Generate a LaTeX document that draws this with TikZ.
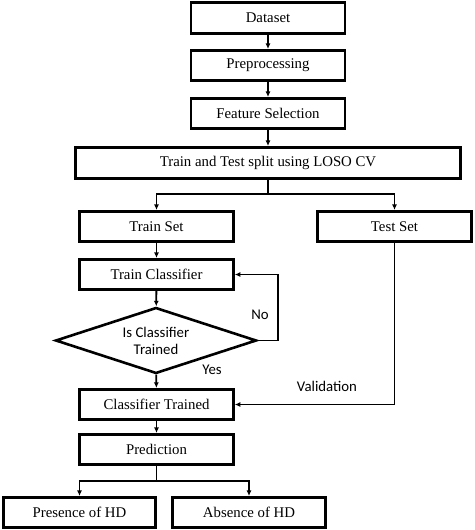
\documentclass[tikz,border=0pt]{standalone}
\usepackage{fontspec}
\setmainfont{Liberation Serif}
\newfontfamily\calfont{Carlito}
\usepackage{tikz}
\usetikzlibrary{arrows.meta}
\usetikzlibrary{shapes.geometric}
\tikzset{>={Latex[length=5.5pt,width=5pt]}}
\tikzset{stagebox/.style={draw, line width=2.6pt, minimum width=154pt, minimum height=30.5pt, inner sep=0pt, font=\fontsize{14.8}{17}\selectfont}}

\begin{document}
\begin{tikzpicture}[x=1pt, y=-1pt, every edge/.style={draw,line width=1.8pt}]
  \useasboundingbox (0,0) rectangle (474,530);

  \node[stagebox] at (268, 18)    (data)  {Dataset};
  \node[stagebox] at (268, 65.5)  (prep)  {Preprocessing};
  \node[stagebox] at (268, 113.5) (feat)  {Feature Selection};
  \node[stagebox, minimum width=385.5pt, minimum height=31.5pt] at (268, 163) (split) {Train and Test split using LOSO CV};
  \node[stagebox] at (156.5, 226.5) (trainset) {Train Set};
  \node[stagebox] at (394.5, 226.5) (testset)  {Test Set};
  \node[stagebox] at (156.5, 274.5) (traincls) {Train Classifier};
  \node[draw, diamond, line width=2.6pt, aspect=2.96, minimum width=201pt, minimum height=66pt, inner sep=0pt,
        align=center, font=\calfont\fontsize{14.8}{17}\selectfont] at (156, 340.5) (decide) {Is Classifier\\Trained};
  \node[stagebox] at (156.5, 404.5) (trained)  {Classifier Trained};
  \node[stagebox] at (156.5, 449.5) (pred)     {Prediction};
  \node[stagebox, minimum width=152pt] at (79.5, 512.5) (presence) {Presence of HD};
  \node[stagebox, minimum width=153pt] at (249, 512.5)  (absence)  {Absence of HD};

  \coordinate (fork1) at (268, 194);
  \coordinate (fork2) at (156.5, 481);

  \draw (data) edge[->] (prep);
  \draw (prep) edge[->] (feat);
  \draw (feat) edge[->] (split);
  \draw[line width=1.8pt] (split) -- (fork1);
  \draw[->, line width=1.8pt] (fork1) -| (trainset);
  \draw[->, line width=1.8pt] (fork1) -| (testset);
  \draw (trainset) edge[->] (traincls);
  \draw (traincls) edge[->] (decide);
  \draw[->, line width=1.8pt] (decide.east) -- ++(20,0) |- (traincls.east);
  \draw (decide) edge[->] (trained);
  \draw[->, line width=1.8pt] (testset.south) |- (trained.east);
  \draw (trained) edge[->] (pred);
  \draw[line width=1.8pt] (pred) -- (fork2);
  \draw[->, line width=1.8pt] (fork2) -| (presence);
  \draw[->, line width=1.8pt] (fork2) -| (absence);

  \node[font=\calfont\fontsize{14.8}{17}\selectfont] at (260, 315)   (nolab)  {No};
  \node[font=\calfont\fontsize{14.8}{17}\selectfont] at (212, 370)   (yeslab) {Yes};
  \node[font=\calfont\fontsize{14.8}{17}\selectfont] at (327, 386.5) (vallab) {Validation};

\end{tikzpicture}
\end{document}
